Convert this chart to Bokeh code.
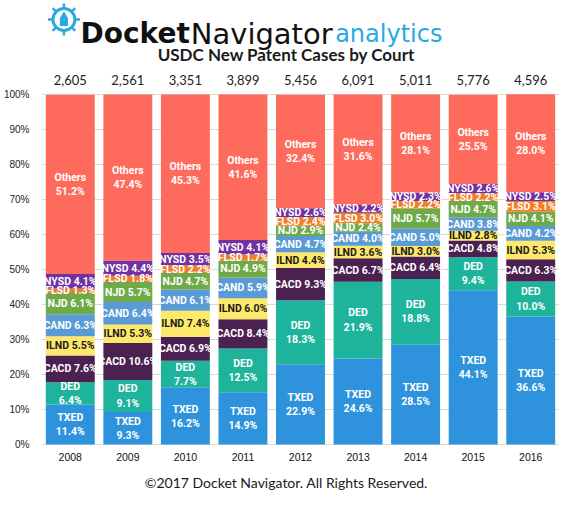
from bokeh.plotting import figure
from bokeh.models import ColumnDataSource, FixedTicker, PrintfTickFormatter, Range1d, FactorRange
from bokeh.core.properties import value
from bokeh.embed import file_html
from bokeh.resources import INLINE

# ---------------- data ----------------
years = ["2008", "2009", "2010", "2011", "2012", "2013", "2014", "2015", "2016"]
totals = ["2,605", "2,561", "3,351", "3,899", "5,456", "6,091", "5,011", "5,776", "4,596"]
courts = ["TXED", "DED", "CACD", "ILND", "CAND", "NJD", "FLSD", "NYSD", "Others"]

txed = [11.4, 9.3, 16.2, 14.9, 22.9, 24.6, 28.5, 44.1, 36.6]
ded = [6.4, 9.1, 7.7, 12.5, 18.3, 21.9, 18.8, 9.4, 10.0]
cacd = [7.6, 10.6, 6.9, 8.4, 9.3, 6.7, 6.4, 4.8, 6.3]
ilnd = [5.5, 5.3, 7.4, 6.0, 4.4, 3.6, 3.0, 2.8, 5.3]
cand = [6.3, 6.4, 6.1, 5.9, 4.7, 4.0, 5.0, 3.8, 4.2]
njd = [6.1, 5.7, 4.7, 4.9, 2.9, 2.4, 5.7, 4.7, 4.1]
flsd = [1.3, 1.8, 2.2, 1.7, 2.4, 3.0, 2.2, 2.2, 3.1]
nysd = [4.1, 4.4, 3.5, 4.1, 2.6, 2.2, 2.3, 2.6, 2.5]
others = [51.2, 47.4, 45.3, 41.6, 32.4, 31.6, 28.1, 25.5, 28.0]

series = [txed, ded, cacd, ilnd, cand, njd, flsd, nysd, others]
colors = ["#2E93DC", "#1EB39B", "#4B2152", "#FEE86A", "#5A9BD6",
          "#6EAA47", "#F07E26", "#7131A1", "#FE6B5C"]
label_colors = ["white", "white", "white", "#1a1a1a", "white",
                "white", "white", "white", "white"]
two_line = {"TXED", "DED", "Others"}
y_ticks = [0, 10, 20, 30, 40, 50, 60, 70, 80, 90, 100]

title_text = "USDC New Patent Cases by Court"
copyright_text = "\u00a92017 Docket Navigator. All Rights Reserved."

# ---------------- layout helpers (page px -> data coords) ----------------
FRAME_LEFT_PX = 36.0
UNIT_PX = 59.0
ZERO_PX = 444.0
PX_PER_PCT = 3.5
FIG_H = 500


def ux(px):
    return (px - FRAME_LEFT_PX) / UNIT_PX


def uy(py):
    return (ZERO_PX - py) / PX_PER_PCT


data = {"year": years}
for c, s in zip(courts, series):
    data[c] = s
src = ColumnDataSource(data)

p = figure(x_range=FactorRange(*years), y_range=Range1d(uy(FIG_H), uy(0)),
           width=559, height=FIG_H, output_backend="svg", toolbar_location=None,
           min_border_left=28, min_border_right=0, min_border_top=0,
           min_border_bottom=0)
p.outline_line_color = None
p.background_fill_color = "white"
p.border_fill_color = "white"

p.vbar_stack(courts, x="year", width=0.85, color=colors, line_color=None,
             source=src)

# segment labels
lx, ly, lt, lc = [], [], [], []
for i, yr in enumerate(years):
    base = 0.0
    for c, s, tc in zip(courts, series, label_colors):
        v = s[i]
        lx.append(yr)
        ly.append(base + v / 2.0)
        sep = "\n" if c in two_line else " "
        lt.append(f"{c}{sep}{v:.1f}%")
        lc.append(tc)
        base += v
lsrc = ColumnDataSource(dict(x=lx, y=ly, t=lt, c=lc))
p.text(x="x", y="y", text="t", text_color="c", source=lsrc,
       text_align="center", text_baseline="middle",
       text_font=value("Roboto"), text_font_style="bold",
       text_font_size="10.5px", text_line_height=1.1)

# totals above bars
tops = [sum(s[i] for s in series) for i in range(len(years))]
tsrc = ColumnDataSource(dict(x=years, y=[max(t, 100) + 4.1 for t in tops], t=totals))
p.text(x="x", y="y", text="t", source=tsrc, text_align="center",
       text_baseline="middle", text_font=value("Lato"), text_font_size="13px",
       text_color="#222222")

# year labels under the bars
ysrc = ColumnDataSource(dict(x=years, y=[uy(456)] * len(years), t=years))
p.text(x="x", y="y", text="t", source=ysrc, text_align="center",
       text_baseline="middle", text_font=value("Liberation Sans"),
       text_font_size="10.5px", text_color="#111111")

# chart title and copyright
p.text(x=[ux(287)], y=[uy(54)], text=[title_text],
       text_align="center", text_baseline="middle", text_font=value("Lato"),
       text_font_style="bold", text_font_size="17px", text_color="#1a1a1a")
p.text(x=[ux(287)], y=[uy(482)], text=[copyright_text],
       text_align="center", text_baseline="middle", text_font=value("Lato"),
       text_font_size="14px", text_color="#1a1a1a")

# logo
blue = "#29A9E0"
p.scatter(x=[ux(59)], y=[uy(19)], marker="asterisk", size=32,
          line_color=blue, line_width=2.5)
p.scatter(x=[ux(59)], y=[uy(19)], marker="circle", size=22,
          fill_color="white", line_color=blue, line_width=3)
p.scatter(x=[ux(59)], y=[uy(16)], marker="triangle", size=9,
          fill_color=blue, line_color=None)
p.scatter(x=[ux(59)], y=[uy(21.5)], marker="square", size=8,
          fill_color=blue, line_color=None)
p.text(x=[ux(76)], y=[uy(33)], text=["Docket"], text_align="left",
       text_baseline="alphabetic", text_font=value("DejaVu Sans"),
       text_font_style="bold", text_font_size="28px", text_color="#111111")
p.text(x=[ux(189)], y=[uy(33)], text=["Navigator"], text_align="left",
       text_baseline="alphabetic", text_font=value("DejaVu Sans"),
       text_font_size="29px", text_color="#111111")
p.text(x=[ux(337)], y=[uy(33)], text=["analytics"], text_align="left",
       text_baseline="alphabetic", text_font=value("DejaVu Sans"),
       text_font_size="24px", text_color=blue)

# axes & grid
p.xaxis.visible = False
p.xgrid.grid_line_color = None
p.ygrid.ticker = FixedTicker(ticks=y_ticks)
p.ygrid.grid_line_color = "#d9d9d9"
p.yaxis.ticker = FixedTicker(ticks=y_ticks)
p.yaxis.formatter = PrintfTickFormatter(format="%d%%")
p.yaxis.axis_line_color = None
p.yaxis.major_tick_line_color = None
p.yaxis.minor_tick_line_color = None
p.yaxis.major_label_standoff = 6
p.yaxis.major_label_text_font = "Liberation Sans"
p.yaxis.major_label_text_font_size = "10px"
p.yaxis.major_label_text_color = "#222222"

open("out.html", "w").write(file_html(p, INLINE))
